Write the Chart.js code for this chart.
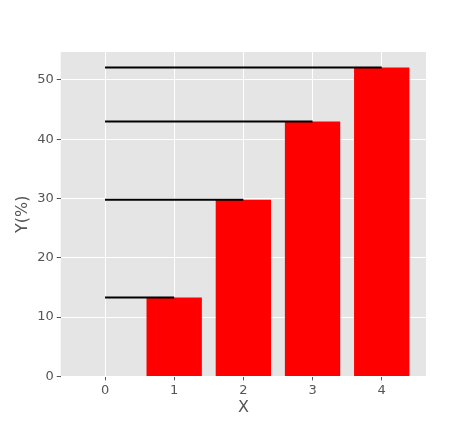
<!DOCTYPE html>
<html>
<head>
<meta charset="utf-8">
<script src="https://cdn.jsdelivr.net/npm/chart.js@4/dist/chart.umd.min.js"></script>
<style>
  html, body { margin: 0; padding: 0; background: #fff; }
  #wrap { width: 474px; height: 421px; }
</style>
</head>
<body>
<div id="wrap"><canvas id="barChart"></canvas></div>
<script>
// データ
const xValues = [1, 2, 3, 4];
const yValues = [13.3, 29.8, 43.0, 52.1];
const xTicks = [0, 1, 2, 3, 4];
const yTicks = [0, 10, 20, 30, 40, 50];

// 背景（ggplot風の灰色）
const plotBg = {
  id: "plotBg",
  beforeDraw(chart) {
    const { ctx, chartArea: a } = chart;
    ctx.save();
    ctx.fillStyle = "#e5e5e5";
    ctx.fillRect(a.left, a.top, a.right - a.left, a.bottom - a.top);
    ctx.restore();
  },
};

// 0 から各棒の x まで伸びる水平線
const lineSets = xValues.map((x, i) => ({
  type: "line",
  data: [
    { x: 0, y: yValues[i] },
    { x: x, y: yValues[i] },
  ],
  borderColor: "#000",
  borderWidth: 2,
  pointRadius: 0,
  fill: false,
  order: 0,
}));

const config = {
  type: "bar",
  data: {
    datasets: [
      {
        type: "bar",
        data: xValues.map((x, i) => ({ x: x, y: yValues[i] })),
        backgroundColor: "#ff0000",
        borderWidth: 0,
        barPercentage: 0.8,
        categoryPercentage: 1.0,
        order: 1,
      },
      ...lineSets,
    ],
  },
  options: {
    responsive: true,
    maintainAspectRatio: false,
    animation: false,
    layout: { padding: { left: 9, right: 48, top: 52, bottom: 2 } },
    plugins: {
      legend: { display: false },
      tooltip: { enabled: false },
    },
    scales: {
      x: {
        type: "linear",
        min: -0.64,
        max: 4.64,
        offset: false,
        afterBuildTicks: (s) => { s.ticks = xTicks.map((v) => ({ value: v })); },
        grid: { offset: false, color: "#ffffff", lineWidth: 1, tickColor: "#555555", tickLength: 4 },
        border: { display: false },
        ticks: { color: "#555555", font: { family: "DejaVu Sans", size: 13 }, padding: 2 },
        title: { display: true, text: "X", color: "#555555", font: { family: "DejaVu Sans", size: 16, lineHeight: 1.0 }, padding: { top: 0, bottom: 3 } },
      },
      y: {
        type: "linear",
        min: 0,
        max: 54.7,
        afterBuildTicks: (s) => { s.ticks = yTicks.map((v) => ({ value: v })); },
        grid: { color: "#ffffff", lineWidth: 1, tickColor: "#555555", tickLength: 4 },
        border: { display: false },
        ticks: { color: "#555555", font: { family: "DejaVu Sans", size: 13 }, padding: 3 },
        title: { display: true, text: "Y(%)", color: "#555555", font: { family: "DejaVu Sans", size: 16 }, padding: { bottom: 2 } },
      },
    },
  },
  plugins: [plotBg],
};

document.addEventListener("DOMContentLoaded", () => {
  new Chart("barChart", config);
});
</script>
</body>
</html>
